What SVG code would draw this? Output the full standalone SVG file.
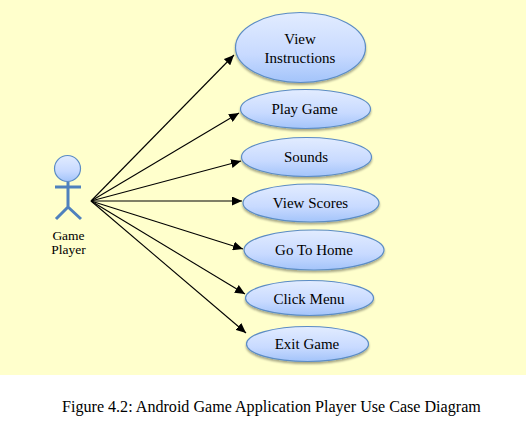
<svg xmlns="http://www.w3.org/2000/svg" width="526" height="428" viewBox="0 0 526 428">
<style>
.uc{fill:url(#g);stroke:#5b8cc4;stroke-width:1.2;filter:url(#s)}
.t{font-family:"Liberation Serif",serif;font-size:15px;fill:#000;text-anchor:middle}
.a{font-family:"Liberation Serif",serif;font-size:13.500px;fill:#000;text-anchor:middle}
.l{stroke:#000;stroke-width:1.100;fill:none;marker-end:url(#a)}
.b{stroke:#4f81bd;stroke-width:3;fill:none}
</style>
<defs>
<linearGradient id="g" x1="0" y1="0" x2="0" y2="1"><stop offset="0" stop-color="#e2ecff"/><stop offset="0.6" stop-color="#c8daff"/><stop offset="1" stop-color="#a3c4fa"/></linearGradient>
<filter id="s" x="-10%" y="-15%" width="120%" height="140%"><feDropShadow dx="0" dy="2" stdDeviation="1.2" flood-color="#000" flood-opacity="0.35"/></filter>
<marker id="a" markerWidth="11" markerHeight="9" refX="10" refY="4.500" orient="auto" markerUnits="userSpaceOnUse"><path d="M0 0L10 4.500L0 9z" fill="#000"/></marker>
</defs>
<rect width="526" height="375" fill="#ffffcc"/>
<g id="connectors">
<line class="l" x1="91" y1="201" x2="234" y2="55"/>
<line class="l" x1="91" y1="201" x2="239" y2="113"/>
<line class="l" x1="91" y1="201" x2="241" y2="161"/>
<line class="l" x1="91" y1="201" x2="242" y2="201"/>
<line class="l" x1="91" y1="201" x2="243" y2="249"/>
<line class="l" x1="91" y1="201" x2="245" y2="294"/>
<line class="l" x1="91" y1="201" x2="246" y2="333"/>
</g>
<g id="actor">
<circle cx="67.500" cy="168.500" r="13" fill="url(#g)" stroke="#5b8cc4" stroke-width="1.200"/>
<path class="b" d="M68 182V207M55 187H81M56 219L68 207L81 219"/>
<text class="a" x="68.500" y="240">Game</text>
<text class="a" x="68.500" y="254">Player</text>
</g>
<g id="view-instructions"><ellipse class="uc" cx="300.500" cy="47.500" rx="65" ry="35"/><text class="t" x="300" y="44">View</text><text class="t" x="300" y="63">Instructions</text></g>
<g id="play-game"><ellipse class="uc" cx="305.500" cy="109" rx="65" ry="19.500"/><text class="t" x="304.500" y="114">Play Game</text></g>
<g id="sounds"><ellipse class="uc" cx="306.500" cy="157" rx="65" ry="19.500"/><text class="t" x="306" y="162">Sounds</text></g>
<g id="view-scores"><ellipse class="uc" cx="311" cy="203" rx="68" ry="19"/><text class="t" x="310.500" y="208">View Scores</text></g>
<g id="go-to-home"><ellipse class="uc" cx="314" cy="250" rx="70" ry="20"/><text class="t" x="314" y="255">Go To Home</text></g>
<g id="click-menu"><ellipse class="uc" cx="309.500" cy="298" rx="64" ry="17.500"/><text class="t" x="309" y="304">Click Menu</text></g>
<g id="exit-game"><ellipse class="uc" cx="307.500" cy="344" rx="61" ry="17.500"/><text class="t" x="307" y="349">Exit Game</text></g>
<text x="62" y="412" style="font-family:'Liberation Serif',serif;font-size:16.100px" fill="#000">Figure 4.2: Android Game Application Player Use Case Diagram</text>
</svg>
